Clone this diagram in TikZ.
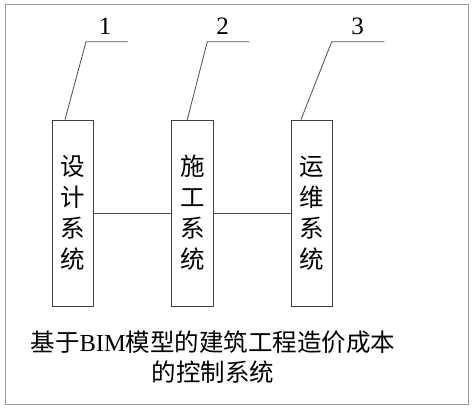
\documentclass[tikz,border=0pt]{standalone}
\usepackage{fontspec}
\setmainfont{Liberation Serif}
\newfontfamily\cjk{Noto Sans CJK SC}
\tikzset{
	sysbox/.style={draw=black!75, line width=0.8pt, minimum width=41.5pt, minimum height=186pt,
		inner sep=0pt, align=center, font=\cjk\fontsize{24.5}{31}\selectfont},
	lead/.style={draw=black!70, line width=0.8pt},
	num/.style={font=\fontsize{25}{25}\selectfont, inner sep=0pt},
}
\begin{document}
\begin{tikzpicture}[x=1pt,y=-1pt]
	\useasboundingbox (0,0) rectangle (474,411);
	% Frame
	\draw[black!40, line width=1pt] (5.7,5) rectangle (468,405);
	% Systems
	\path (73,213) node [sysbox] (sheji) {设\\计\\系\\统};
	\path (192.3,213) node [sysbox] (shigong) {施\\工\\系\\统};
	\path (311.8,213) node [sysbox] (yunwei) {运\\维\\系\\统};
	\draw[lead] (sheji) -- (shigong);
	\draw[lead] (shigong) -- (yunwei);
	% Leaders and numbers
	\foreach \sys/\dx/\kx/\ex/\lx/\n in {sheji/-8/86/127.7/105/1, shigong/-5/207.3/249.3/222.7/2, yunwei/-10.8/331.7/384.3/357.7/3}{
		\coordinate (knee\n) at (\kx,41.7);
		\coordinate (end\n) at (\ex,41.7);
		\draw[lead] ([xshift=\dx pt]\sys.north) -- (knee\n) -- (end\n);
		\path (\lx,26.7) node [num] (num\n) {\n};
	}
	% Caption
	\path (213,356.7) node [align=center, inner sep=0pt, font=\cjk\fontsize{24.5}{30}\selectfont] (caption)
		{基于{\rmfamily BIM}模型的建筑工程造价成本\\的控制系统};
\end{tikzpicture}
\end{document}
